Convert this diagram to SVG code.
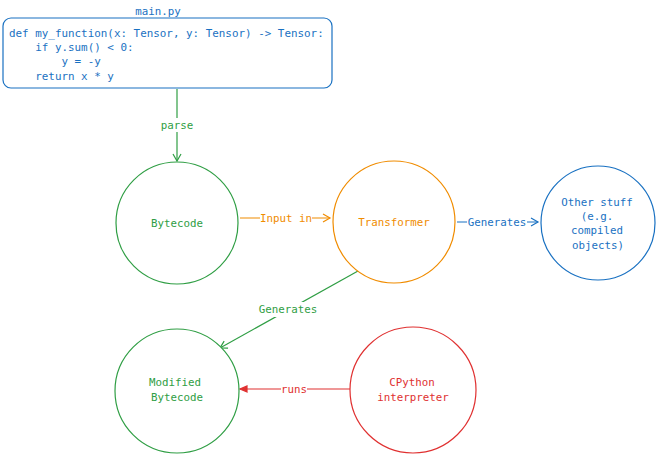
<svg xmlns="http://www.w3.org/2000/svg" width="660" height="457" viewBox="0 0 660 457">
<style>
text{font-family:"DejaVu Sans Mono","Liberation Mono",monospace;font-size:10.8px}
.c{text-anchor:middle;dominant-baseline:central}
.code{font-size:10.9px}
.blue{fill:#1971c2}.green{fill:#2f9e44}.orange{fill:#f08c00}.red{fill:#e03131}
.node{fill:#fff;stroke-width:1.2}
.bg{fill:#fff}
</style>
<defs>
<marker id="ag" markerWidth="10" markerHeight="10" refX="8" refY="5" orient="auto" markerUnits="userSpaceOnUse"><path d="M1,1 L8,5 L1,9" fill="none" stroke="#2f9e44" stroke-width="1.2"/></marker>
<marker id="ao" markerWidth="10" markerHeight="10" refX="8" refY="5" orient="auto" markerUnits="userSpaceOnUse"><path d="M1,1 L8,5 L1,9" fill="none" stroke="#f08c00" stroke-width="1.2"/></marker>
<marker id="ab" markerWidth="10" markerHeight="10" refX="8" refY="5" orient="auto" markerUnits="userSpaceOnUse"><path d="M1,1 L8,5 L1,9" fill="none" stroke="#1971c2" stroke-width="1.2"/></marker>
<marker id="ar" markerWidth="10" markerHeight="10" refX="8" refY="5" orient="auto" markerUnits="userSpaceOnUse"><path d="M1,2 L8,5 L1,8 Z" fill="#e03131" stroke="#e03131" stroke-width="1.2"/></marker>
</defs>
<rect width="660" height="457" fill="#fff"/>
<g id="connectors" fill="none" stroke-width="1.2">
<line x1="177" y1="89" x2="177" y2="161" stroke="#2f9e44" marker-end="url(#ag)"/>
<line x1="240" y1="218" x2="330" y2="218" stroke="#f08c00" marker-end="url(#ao)"/>
<line x1="457" y1="222" x2="538" y2="222" stroke="#1971c2" marker-end="url(#ab)"/>
<line x1="358" y1="271" x2="220" y2="348" stroke="#2f9e44" marker-end="url(#ag)"/>
<line x1="350" y1="389" x2="240" y2="389" stroke="#e03131" marker-end="url(#ar)"/>
<rect class="bg" x="158" y="118" width="38" height="14" stroke="none"/>
<text class="c green" x="177" y="125" stroke="none">parse</text>
<rect class="bg" x="260" y="211" width="52" height="14" stroke="none"/>
<text class="c orange" x="286" y="218" stroke="none">Input in</text>
<rect class="bg" x="467" y="215" width="60" height="14" stroke="none"/>
<text class="c blue" x="497" y="222" stroke="none">Generates</text>
<rect class="bg" x="257" y="302" width="62" height="15" stroke="none"/>
<text class="c green" x="288" y="309" stroke="none">Generates</text>
<rect class="bg" x="281" y="382" width="26" height="14" stroke="none"/>
<text class="c red" x="294" y="389" stroke="none">runs</text>
</g>
<g id="main-py">
<text class="c blue" x="158" y="11">main.py</text>
<rect x="3" y="18" width="329" height="70" rx="8" fill="#fff" stroke="#1971c2" stroke-width="1.2"/>
<text class="blue code" x="9" y="37" xml:space="preserve">def my_function(x: Tensor, y: Tensor) -&gt; Tensor:</text>
<text class="blue code" x="9" y="51" xml:space="preserve">    if y.sum() &lt; 0:</text>
<text class="blue code" x="9" y="65" xml:space="preserve">        y = -y</text>
<text class="blue code" x="9" y="80" xml:space="preserve">    return x * y</text>
</g>
<g id="bytecode">
<circle class="node" cx="177" cy="223" r="61" stroke="#2f9e44"/>
<text class="c green" x="177" y="223">Bytecode</text>
</g>
<g id="transformer">
<circle class="node" cx="394" cy="222" r="61" stroke="#f08c00"/>
<text class="c orange" x="394" y="222">Transformer</text>
</g>
<g id="other-stuff">
<circle class="node" cx="598" cy="223" r="57" stroke="#1971c2"/>
<text class="c blue" x="597" y="202">Other stuff</text>
<text class="c blue" x="597" y="216">(e.g.</text>
<text class="c blue" x="597" y="230">compiled</text>
<text class="c blue" x="598" y="245">objects)</text>
</g>
<g id="modified-bytecode">
<circle class="node" cx="177" cy="391" r="62" stroke="#2f9e44"/>
<text class="c green" x="175" y="382">Modified</text>
<text class="c green" x="177" y="397">Bytecode</text>
</g>
<g id="cpython">
<circle class="node" cx="413" cy="390" r="63" stroke="#e03131"/>
<text class="c red" x="412" y="382">CPython</text>
<text class="c red" x="413" y="397">interpreter</text>
</g>
</svg>
